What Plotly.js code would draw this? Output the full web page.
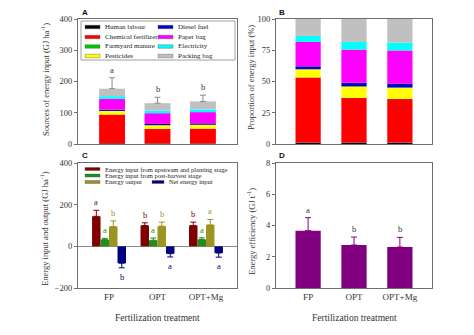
<!DOCTYPE html>
<html><head><meta charset="utf-8">
<script src="https://cdn.plot.ly/plotly-3.0.1.min.js"></script>
<style>html,body{margin:0;padding:0;background:#fff}#chart{width:474px;height:335px}</style>
</head><body><div id="chart"></div>
<script>
// ---------- data ----------
const categories = ['FP', 'OPT', 'OPT+Mg'];

// Panel A: sources of energy input (GJ ha-1)
const sourceNames = ['Human labour', 'Chemical fertilizer', 'Farmyard manure', 'Pesticides',
                     'Diesel fuel', 'Paper bag', 'Electricity', 'Packing bag'];
const humanLabour      = [2.0, 1.5, 1.5];
const chemFertilizer   = [92.0, 46.5, 47.5];
const farmyardManure   = [0.3, 0.3, 0.3];
const pesticides       = [11.5, 11.8, 12.2];
const dieselFuel       = [4.2, 4.0, 4.5];
const paperBag         = [34.5, 34.5, 36.0];
const electricity      = [8.5, 8.0, 8.5];
const packingBag       = [24.0, 24.0, 25.8];
const totalInputErr    = [35, 19, 20];
const totalInputLetters = ['a', 'b', 'b'];

// Panel C: energy input and output (GJ ha-1)
const seriesCNames = ['Energy input from upstream and planting stage', 'Energy input from post-harvest stage',
                      'Energy output', 'Net energy input'];
const upstreamInput    = [144, 100, 100];
const upstreamErr      = [29, 13, 16];
const upstreamLetters  = ['a', 'b', 'b'];
const postHarvestInput = [32, 29, 33];
const postHarvestErr   = [6, 11, 8];
const postHarvestLetters = ['a', 'a', 'a'];
const energyOutput     = [95, 97, 103];
const energyOutputErr  = [27, 19, 26];
const energyOutputLetters = ['b', 'b', 'a'];
const netEnergyInput   = [-81, -35, -32];
const netEnergyErr     = [22, 16, 20];
const netEnergyLetters = ['b', 'a', 'a'];

// Panel D: energy efficiency (GJ t-1)
const energyEfficiency = [3.67, 2.75, 2.62];
const energyEffErr     = [0.83, 0.51, 0.62];
const energyEffLetters = ['a', 'b', 'b'];

// ---------- styling ----------
const W = 474, H = 335;
const px = x => x / W, py = y => 1 - y / H;
const serif = 'Liberation Serif, Times New Roman, serif';
const sans = 'Liberation Sans, Arial, sans-serif';
const frame = '#6e6e6e';
const sourceColors = ['#000000', '#ff0000', '#00c800', '#ffff00', '#0000c8', '#ff00ff', '#00ffff', '#c0c0c0'];
const cColors = ['#800000', '#1e8c1e', '#9c9420', '#000080'];
const purple = '#800080';

const sources = [humanLabour, chemFertilizer, farmyardManure, pesticides, dieselFuel, paperBag, electricity, packingBag];
const totals = categories.map((_, i) => sources.reduce((s, a) => s + a[i], 0));

const traces = [];
const annotations = [];
const shapes = [];

// Panel A & B stacked bars
let cumA = categories.map(() => 0);
let cumB = categories.map(() => 0);
sources.forEach((vals, k) => {
  const pct = vals.map((v, i) => v / totals[i] * 100);
  const isTop = k === sources.length - 1;
  traces.push({
    type: 'bar', x: categories, y: vals, base: cumA.slice(), xaxis: 'x', yaxis: 'y',
    width: 0.57, marker: {color: sourceColors[k], line: {width: 0}}, name: sourceNames[k], showlegend: false,
    error_y: isTop ? {type: 'data', array: totalInputErr, arrayminus: [0, 0, 0], symmetric: false,
                      color: '#8a8a8a', thickness: 1, width: 3} : {visible: false}
  });
  traces.push({
    type: 'bar', x: categories, y: pct, base: cumB.slice(), xaxis: 'x2', yaxis: 'y2',
    width: 0.55, marker: {color: sourceColors[k], line: {width: 0}}, name: sourceNames[k], showlegend: false
  });
  cumA = cumA.map((c, i) => c + vals[i]);
  cumB = cumB.map((c, i) => c + pct[i]);
});
categories.forEach((c, i) => {
  annotations.push({xref: 'x', yref: 'y', x: i, y: totals[i] + totalInputErr[i], yshift: 8,
    text: totalInputLetters[i], showarrow: false, font: {family: serif, size: 8.5, color: '#333'}});
});

// Panel C grouped bars
const cSeries = [
  [upstreamInput, upstreamErr, upstreamLetters],
  [postHarvestInput, postHarvestErr, postHarvestLetters],
  [energyOutput, energyOutputErr, energyOutputLetters],
  [netEnergyInput, netEnergyErr, netEnergyLetters]
];
const cWidth = 0.175;
const cOffsets = [-0.35, -0.175, 0, 0.175];
cSeries.forEach(([vals, errs, letters], k) => {
  const neg = vals[0] < 0;
  traces.push({
    type: 'bar', x: categories, y: vals, xaxis: 'x3', yaxis: 'y3',
    width: cWidth, offset: cOffsets[k], marker: {color: cColors[k], line: {width: 0}},
    name: seriesCNames[k], showlegend: false,
    error_y: {type: 'data', array: neg ? errs.map(() => 0) : errs, arrayminus: neg ? errs : errs.map(() => 0),
              symmetric: false, color: cColors[k], thickness: 1, width: 3}
  });
  categories.forEach((c, i) => {
    annotations.push({xref: 'x3', yref: 'y3', x: i + cOffsets[k] + cWidth / 2,
      y: neg ? vals[i] - errs[i] : vals[i] + errs[i], yshift: neg ? -9 : 8,
      text: letters[i], showarrow: false, font: {family: serif, size: 8.5, color: cColors[k]}});
  });
});

// Panel D
traces.push({
  type: 'bar', x: categories, y: energyEfficiency, xaxis: 'x4', yaxis: 'y4', width: 0.55,
  marker: {color: purple, line: {width: 0}}, showlegend: false,
  error_y: {type: 'data', array: energyEffErr, arrayminus: [0, 0, 0], symmetric: false, color: purple, thickness: 1, width: 3}
});
categories.forEach((c, i) => {
  annotations.push({xref: 'x4', yref: 'y4', x: i, y: energyEfficiency[i] + energyEffErr[i], yshift: 8,
    text: energyEffLetters[i], showarrow: false, font: {family: serif, size: 8.5, color: '#333'}});
});

// ---------- manual legends ----------
function legendItem(x0, x1, yc, h, color, label, fs) {
  shapes.push({type: 'rect', xref: 'paper', yref: 'paper', x0: px(x0), x1: px(x1), y0: py(yc + h / 2), y1: py(yc - h / 2),
    fillcolor: color, line: {color: '#555', width: 0.4}});
  annotations.push({xref: 'paper', yref: 'paper', x: px(x1 + 3), y: py(yc), xanchor: 'left', yanchor: 'middle',
    text: label, showarrow: false, font: {family: serif, size: fs, color: '#222'}});
}
const aRows = [27, 37, 46.5, 56];
sourceNames.forEach((n, k) => {
  const col = Math.floor(k / 4), row = k % 4;
  const x0 = col === 0 ? 85 : 158;
  legendItem(x0, x0 + 15, aRows[row], 3.5, sourceColors[k], n, 7);
});
shapes.push({type: 'rect', xref: 'paper', yref: 'paper', x0: px(81), x1: px(235), y0: py(60), y1: py(21),
  line: {color: '#888', width: 0.8}, fillcolor: 'rgba(0,0,0,0)'});
legendItem(85, 100, 169, 3, cColors[0], seriesCNames[0], 6.5);
legendItem(85, 100, 175.5, 3, cColors[1], seriesCNames[1], 6.5);
legendItem(85, 100, 182, 3, cColors[2], seriesCNames[2], 6.5);
legendItem(152, 164, 182, 3, cColors[3], seriesCNames[3], 6.5);

// ---------- titles / panel labels ----------
const panelLabels = [['A', 80, 12], ['B', 277, 12], ['C', 80, 156], ['D', 277, 156]];
panelLabels.forEach(([t, x, y]) => annotations.push({xref: 'paper', yref: 'paper', x: px(x), y: py(y),
  xanchor: 'left', yanchor: 'middle', text: '<b>' + t + '</b>', showarrow: false, font: {family: sans, size: 8, color: '#111'}}));
const yTitles = [
  ['Sources of energy input (GJ ha<sup>-1</sup>)', 45, 80],
  ['Proportion of energy input (%)', 251, 78],
  ['Energy input and output (GJ ha<sup>-1</sup>)', 45, 229],
  ['Energy efficiency (GJ t<sup>-1</sup>)', 251, 232]
];
yTitles.forEach(([t, x, y]) => annotations.push({xref: 'paper', yref: 'paper', x: px(x), y: py(y),
  xanchor: 'center', yanchor: 'middle', textangle: -90, text: t, showarrow: false,
  font: {family: serif, size: 8.5, color: '#333'}}));
[[157.5, 318], [354, 318]].forEach(([x, y]) => annotations.push({xref: 'paper', yref: 'paper', x: px(x), y: py(y),
  xanchor: 'center', yanchor: 'middle', text: 'Fertilization treatment', showarrow: false,
  font: {family: serif, size: 9.5, color: '#333'}}));

// ---------- axes ----------
const xLeft = [px(78), px(237)], xRight = [px(276), px(432)];
const yTop = [py(144), py(19)], yBot = [py(288), py(163)];
const baseX = {showline: true, mirror: true, linecolor: frame, linewidth: 1, showgrid: false, zeroline: false,
  type: 'category', fixedrange: true};
const baseY = {showline: true, mirror: true, linecolor: frame, linewidth: 1, showgrid: false, zeroline: false,
  ticks: 'outside', ticklen: 3, tickcolor: frame, tickfont: {family: serif, size: 8.5, color: '#333'}, fixedrange: true};
const layout = {
  width: W, height: H, margin: {l: 0, r: 0, t: 0, b: 0}, paper_bgcolor: '#fff', plot_bgcolor: '#fff',
  barmode: 'overlay', showlegend: false,
  xaxis:  Object.assign({}, baseX, {domain: xLeft, anchor: 'y', range: [-0.75, 2.75], showticklabels: false, ticks: ''}),
  yaxis:  Object.assign({}, baseY, {domain: yTop, anchor: 'x', range: [0, 400], dtick: 100}),
  xaxis2: Object.assign({}, baseX, {domain: xRight, anchor: 'y2', range: [-0.7, 2.7], showticklabels: false, ticks: ''}),
  yaxis2: Object.assign({}, baseY, {domain: yTop, anchor: 'x2', range: [0, 100], dtick: 25}),
  xaxis3: Object.assign({}, baseX, {domain: xLeft, anchor: 'y3', range: [-0.64, 2.64], ticks: '',
    tickfont: {family: serif, size: 9, color: '#333'}}),
  yaxis3: Object.assign({}, baseY, {domain: yBot, anchor: 'x3', range: [-200, 400], dtick: 200,
    zeroline: true, zerolinecolor: '#8a8a8a', zerolinewidth: 1}),
  xaxis4: Object.assign({}, baseX, {domain: xRight, anchor: 'y4', range: [-0.7, 2.7], ticks: '',
    tickfont: {family: serif, size: 9, color: '#333'}}),
  yaxis4: Object.assign({}, baseY, {domain: yBot, anchor: 'x4', range: [0, 8], dtick: 2}),
  annotations: annotations, shapes: shapes
};
Plotly.newPlot('chart', traces, layout, {displayModeBar: false, staticPlot: true});
</script></body></html>
